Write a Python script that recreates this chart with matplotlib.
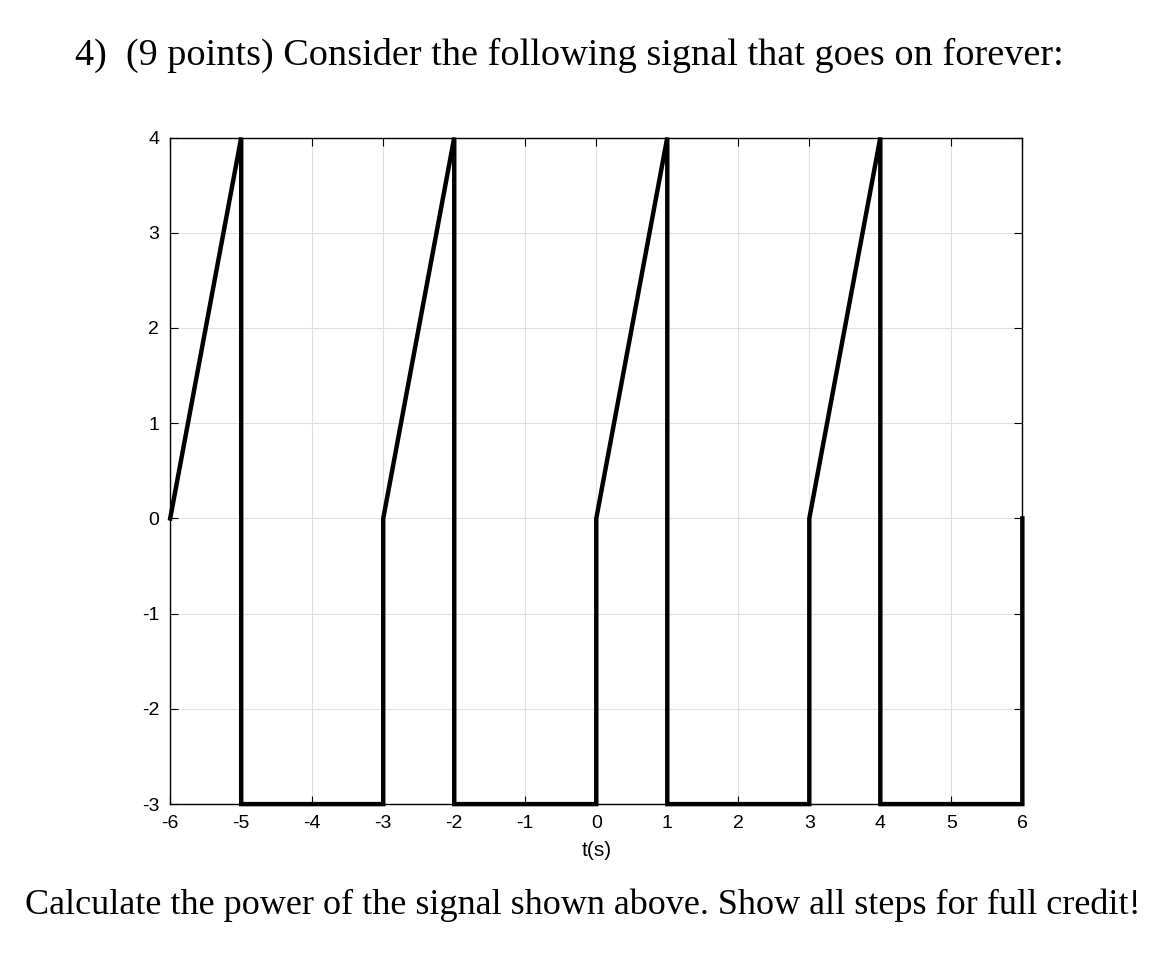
import numpy as np
import matplotlib
matplotlib.use('Agg')
import matplotlib.pyplot as plt

# signal corners (periodic ramp + negative step, period 3 s)
t_pts = [-6, -5, -5, -3, -3, -2, -2, 0, 0, 1, 1, 3, 3, 4, 4, 6, 6]
y_pts = [0, 4, -3, -3, 0, 4, -3, -3, 0, 4, -3, -3, 0, 4, -3, -3, 0]
x_ticks = list(range(-6, 7))
y_ticks = list(range(-3, 5))

fig = plt.figure(figsize=(11.5, 9.55), dpi=100)
ax = fig.add_axes([0.148, 0.158, 0.741, 0.698])
ax.plot(t_pts, y_pts, color='black', lw=3.2, clip_on=False, solid_joinstyle='miter')
ax.set_xlim(-6, 6)
ax.set_ylim(-3, 4)
ax.set_xticks(x_ticks)
ax.set_yticks(y_ticks)
ax.set_xticklabels([str(v) for v in x_ticks])
ax.set_yticklabels([str(v) for v in y_ticks])
ax.grid(True, color='#e0e0e0', lw=0.8)
ax.tick_params(direction='in', top=True, right=True, labelsize=14, length=6, pad=8)
for lab in ax.get_xticklabels() + ax.get_yticklabels():
    lab.set_family('Liberation Sans')
ax.set_xlabel('t(s)', fontsize=15, family='Liberation Sans', labelpad=6)
for s in ax.spines.values():
    s.set_linewidth(1.0)

fig.text(0.065, 0.942, '4)  (9 points) Consider the following signal that goes on forever:',
         family='Liberation Serif', fontsize=27.5, va='center')
fig.text(0.022, 0.052, 'Calculate the power of the signal shown above. Show all steps for full credit!',
         family='Liberation Serif', fontsize=26, va='center')

fig.savefig('out.png', dpi=100)
